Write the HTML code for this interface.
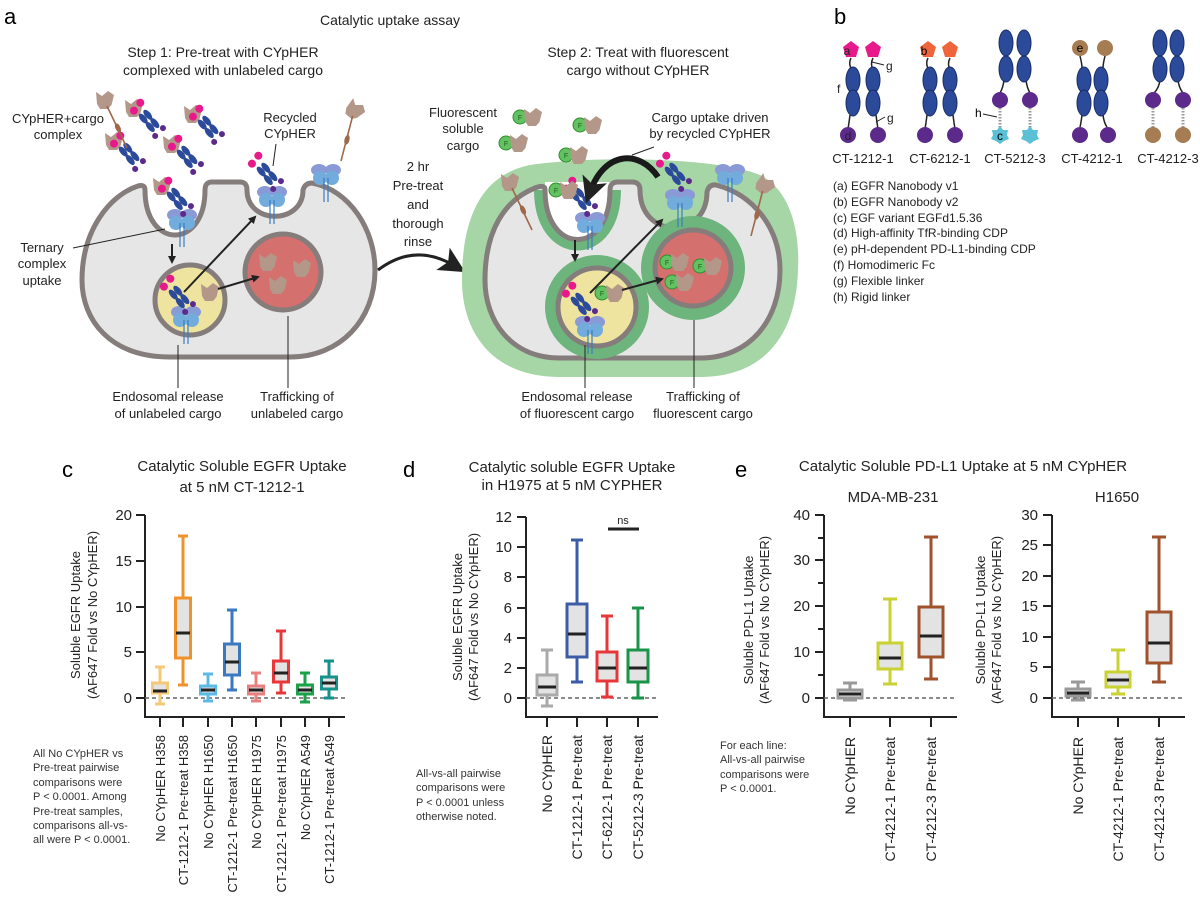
<!DOCTYPE html>
<html><head><meta charset="utf-8"><style>
html,body{margin:0;padding:0;background:#fff}
svg{display:block;font-family:"Liberation Sans",Arial,sans-serif}
</style></head><body>
<svg width="1200" height="903" viewBox="0 0 1200 903" xmlns="http://www.w3.org/2000/svg">
<defs>
<marker id="ah" markerWidth="8" markerHeight="8" refX="6" refY="4" orient="auto" markerUnits="userSpaceOnUse"><path d="M0,0 L8,4 L0,8 Z" fill="#222"/></marker>
<marker id="ahb" markerWidth="26" markerHeight="26" refX="14" refY="13" orient="auto" markerUnits="userSpaceOnUse"><path d="M0,0 L26,13 L0,26 L6,13 Z" fill="#222"/></marker>
<g id="cg"><path d="M-9,-8 L-3,-4 L3,-9 L9,-5 L6.5,5 L3,9 L-5,9 L-8,4 Z" fill="#b39889"/></g>
<g id="cy"><g transform="rotate(-40)">
<circle cx="-5" cy="-19" r="4" fill="#e8198b"/><circle cx="5" cy="-21" r="4" fill="#e8198b"/>
<ellipse cx="-3" cy="-7" rx="3" ry="6" fill="#2b4a9a"/><ellipse cx="3" cy="-7" rx="3" ry="6" fill="#2b4a9a"/>
<ellipse cx="-3" cy="4" rx="3" ry="6" fill="#2b4a9a"/><ellipse cx="3" cy="4" rx="3" ry="6" fill="#2b4a9a"/>
<circle cx="-5" cy="14" r="3" fill="#5c2a8a"/><circle cx="6" cy="13" r="3" fill="#5c2a8a"/></g></g>
<g id="cx"><use href="#cg" x="-16" y="-14"/><use href="#cy"/></g>
<g id="rc"><ellipse cx="-7" cy="0" rx="8" ry="6" fill="#8a9ad6"/><ellipse cx="7" cy="0" rx="8" ry="6" fill="#8a9ad6"/>
<ellipse cx="-6" cy="8" rx="7" ry="7" fill="#72acdc"/><ellipse cx="6" cy="8" rx="7" ry="7" fill="#72acdc"/>
<line x1="-2" y1="8" x2="-2" y2="32" stroke="#3a7cc2" stroke-width="1.2"/><line x1="2" y1="8" x2="2" y2="32" stroke="#3a7cc2" stroke-width="1.2"/></g>
<g id="st"><use href="#cg"/><line x1="2" y1="6" x2="22" y2="48" stroke="#a0684a" stroke-width="1.6"/><ellipse cx="13" cy="28" rx="2.5" ry="5" transform="rotate(-25 13 28)" fill="#a0684a"/></g>
<g id="fc"><circle cx="0" cy="0" r="7" fill="#62c262" stroke="#2f8f2f" stroke-width="1"/><text x="0" y="3" font-size="7" text-anchor="middle" fill="#1e5e1e">F</text><use href="#cg" x="13" y="0"/></g>
</defs>

<text x="4" y="24" font-size="22">a</text>
<text x="390" y="25" font-size="14" text-anchor="middle" fill="#222">Catalytic uptake assay</text>
<text x="223" y="57" font-size="14" text-anchor="middle" fill="#222">Step 1: Pre-treat with CYpHER</text>
<text x="223" y="75" font-size="14" text-anchor="middle" fill="#222">complexed with unlabeled cargo</text>
<text x="638" y="57" font-size="14" text-anchor="middle" fill="#222">Step 2: Treat with fluorescent</text>
<text x="638" y="75" font-size="14" text-anchor="middle" fill="#222">cargo without CYpHER</text>

<path d="M145 190 C145 250,205 250,205 190 Q205 182 212 182 L240 182 Q247 182 247 190 C247 225,303 225,303 190 Q305 183 312 183 C350 190 375 230 375 270 C375 320 340 357 290 357 L170 357 C110 357 82 320 82 280 C82 230 110 195 138 186 Q145 184 145 190 Z" fill="#e6e6e6" stroke="#857c7c" stroke-width="5"/>
<circle cx="190" cy="300" r="35" fill="#efe3a0" stroke="#857c7c" stroke-width="5"/>
<circle cx="283" cy="272" r="38" fill="#d4706e" stroke="#857c7c" stroke-width="5"/>
<use href="#cx" x="150" y="122"/><use href="#cx" x="209" y="128"/><use href="#cx" x="130" y="155"/><use href="#cx" x="188" y="158"/>
<use href="#st" x="105" y="100"/><use href="#st" x="355" y="110" transform="rotate(40 355 110)"/>
<use href="#rc" x="182" y="215"/><use href="#cx" x="178" y="200"/>
<use href="#rc" x="272" y="192"/><use href="#cy" x="268" y="175"/>
<use href="#rc" x="326" y="170"/>
<use href="#rc" x="186" y="312"/><use href="#cy" x="180" y="298"/><use href="#cg" x="210" y="292"/>
<use href="#cg" x="268" y="262"/><use href="#cg" x="302" y="268"/><use href="#cg" x="278" y="285"/>
<line x1="172" y1="244" x2="172" y2="262" stroke="#222" stroke-width="2" marker-end="url(#ah)"/>
<line x1="184" y1="292" x2="255" y2="217" stroke="#222" stroke-width="2" marker-end="url(#ah)"/>
<line x1="218" y1="289" x2="258" y2="277" stroke="#222" stroke-width="2" marker-end="url(#ah)"/>
<g font-size="13" fill="#222" text-anchor="middle">
<text x="58" y="123">CYpHER+cargo</text><text x="58" y="139">complex</text>
<text x="290" y="122">Recycled</text><text x="290" y="138">CYpHER</text>
<text x="42" y="252">Ternary</text><text x="42" y="268">complex</text><text x="42" y="285">uptake</text>
<text x="168" y="401">Endosomal release</text><text x="168" y="418">of unlabeled cargo</text>
<text x="297" y="401">Trafficking of</text><text x="297" y="418">unlabeled cargo</text>
</g>
<g stroke="#222" stroke-width="1">
<line x1="276" y1="144" x2="273" y2="166"/><line x1="73" y1="248" x2="165" y2="229"/>
<line x1="178" y1="345" x2="178" y2="388"/><line x1="288" y1="316" x2="288" y2="388"/></g>

<path d="M378 270 Q415 242 455 266" fill="none" stroke="#222" stroke-width="3" marker-end="url(#ahb)"/>
<g font-size="13" fill="#222" text-anchor="middle">
<text x="418" y="171">2 hr</text><text x="418" y="190">Pre-treat</text><text x="418" y="209">and</text><text x="418" y="228">thorough</text><text x="418" y="246">rinse</text></g>

<path d="M530 165 C600 155 720 158 760 175 C790 190 800 230 798 270 C796 340 760 377 700 377 L560 377 C490 377 462 330 462 280 C462 220 480 175 530 165 Z" fill="#a6d5a6"/>
<path d="M545 190 C545 256,610 256,610 190 Q610 182 618 182 L632 182 Q640 182 640 190 C640 240,707 240,707 192 Q709 184 716 185 C755 195 780 230 780 270 C780 320 750 358 700 358 L560 358 C510 358 485 320 485 280 C485 230 505 200 535 188 Q545 184 545 190 Z" fill="#e6e6e6"/>
<path d="M545 190 C545 256,610 256,610 190" fill="none" stroke="#6db57d" stroke-width="22"/>
<path d="M545 182 C545 256,610 256,610 182 Z" fill="#fff"/>
<path d="M545 190 C545 256,610 256,610 190 Q610 182 618 182 L632 182 Q640 182 640 190 C640 240,707 240,707 192 Q709 184 716 185 C755 195 780 230 780 270 C780 320 750 358 700 358 L560 358 C510 358 485 320 485 280 C485 230 505 200 535 188 Q545 184 545 190 Z" fill="none" stroke="#857c7c" stroke-width="5"/>
<circle cx="597" cy="307" r="52" fill="#6db57d"/><circle cx="597" cy="307" r="39" fill="#efe3a0" stroke="#857c7c" stroke-width="5"/>
<circle cx="693" cy="268" r="52" fill="#6db57d"/><circle cx="693" cy="268" r="38" fill="#d4706e" stroke="#857c7c" stroke-width="5"/>
<use href="#fc" x="520" y="117"/><use href="#fc" x="580" y="125"/><use href="#fc" x="506" y="143"/><use href="#fc" x="566" y="155"/>
<use href="#st" x="510" y="182"/><use href="#st" x="765" y="185" transform="rotate(40 765 185)"/>
<use href="#rc" x="590" y="218"/><use href="#cy" x="582" y="200"/><use href="#fc" x="556" y="190"/>
<use href="#rc" x="680" y="195"/><use href="#cy" x="676" y="175"/>
<use href="#rc" x="730" y="170"/>
<use href="#rc" x="590" y="322"/><use href="#cy" x="582" y="305"/><use href="#fc" x="602" y="293"/>
<use href="#fc" x="667" y="262"/><use href="#fc" x="700" y="266"/><use href="#fc" x="672" y="282"/>
<path d="M658 177 C640 150 605 150 590 192" fill="none" stroke="#1a1a1a" stroke-width="6" marker-end="url(#ahb)"/>
<line x1="575" y1="240" x2="575" y2="260" stroke="#222" stroke-width="2" marker-end="url(#ah)"/>
<line x1="590" y1="293" x2="662" y2="220" stroke="#222" stroke-width="2" marker-end="url(#ah)"/>
<line x1="622" y1="290" x2="662" y2="279" stroke="#222" stroke-width="2" marker-end="url(#ah)"/>
<g font-size="13" fill="#222" text-anchor="middle">
<text x="463" y="117">Fluorescent</text><text x="463" y="133">soluble</text><text x="463" y="150">cargo</text>
<text x="710" y="122">Cargo uptake driven</text><text x="710" y="138">by recycled CYpHER</text>
<text x="577" y="401">Endosomal release</text><text x="577" y="418">of fluorescent cargo</text>
<text x="703" y="401">Trafficking of</text><text x="703" y="418">fluorescent cargo</text></g>
<g stroke="#222" stroke-width="1"><line x1="654" y1="147" x2="632" y2="155"/>
<line x1="585" y1="345" x2="585" y2="388"/><line x1="694" y1="320" x2="694" y2="388"/></g>

<text x="834" y="24" font-size="22">b</text>
<g>
<path d="M851 58 q-3 6 1 12 M873 58 q-3 6 0 12 M850 115 q-1 8 -2 14 M876 115 q1 8 2 14" fill="none" stroke="#222" stroke-width="1.5"/>
<polygon points="851,41 859,47 856,57 846,57 843,47" fill="#e8198b"/><polygon points="873,41 881,47 878,57 868,57 865,47" fill="#e8198b"/>
<ellipse cx="853" cy="80" rx="7" ry="13" fill="#2b4a9a" stroke="#1a2d66"/><ellipse cx="873" cy="80" rx="7" ry="13" fill="#2b4a9a" stroke="#1a2d66"/>
<ellipse cx="853" cy="103" rx="7" ry="13" fill="#2b4a9a" stroke="#1a2d66"/><ellipse cx="873" cy="103" rx="7" ry="13" fill="#2b4a9a" stroke="#1a2d66"/>
<circle cx="848" cy="135" r="8" fill="#5c2a8a"/><circle cx="878" cy="135" r="8" fill="#5c2a8a"/></g>
<g font-size="12" fill="#222"><text x="847" y="55" text-anchor="middle">a</text><text x="848" y="140" text-anchor="middle">d</text><text x="837" y="93">f</text><text x="886" y="70">g</text><text x="887" y="122">g</text></g>
<line x1="872" y1="62" x2="884" y2="65" stroke="#222"/><line x1="876" y1="122" x2="885" y2="117" stroke="#222"/>
<g transform="translate(77,0)">
<path d="M851 58 q-3 6 1 12 M873 58 q-3 6 0 12 M850 115 q-1 8 -2 14 M876 115 q1 8 2 14" fill="none" stroke="#222" stroke-width="1.5"/>
<polygon points="851,41 859,47 856,57 846,57 843,47" fill="#f0643c"/><polygon points="873,41 881,47 878,57 868,57 865,47" fill="#f0643c"/>
<ellipse cx="853" cy="80" rx="7" ry="13" fill="#2b4a9a" stroke="#1a2d66"/><ellipse cx="873" cy="80" rx="7" ry="13" fill="#2b4a9a" stroke="#1a2d66"/>
<ellipse cx="853" cy="103" rx="7" ry="13" fill="#2b4a9a" stroke="#1a2d66"/><ellipse cx="873" cy="103" rx="7" ry="13" fill="#2b4a9a" stroke="#1a2d66"/>
<circle cx="848" cy="135" r="8" fill="#5c2a8a"/><circle cx="878" cy="135" r="8" fill="#5c2a8a"/>
<text x="847" y="55" text-anchor="middle" font-size="12">b</text></g>
<g>
<path d="M1004 80 q-1 8 -4 13 M1026 80 q1 8 4 13" fill="none" stroke="#222" stroke-width="1.5"/>
<path d="M1000 108 l0 20 M1030 108 l0 20" stroke="#999" stroke-width="3" stroke-dasharray="1.5 1.5"/>
<ellipse cx="1006" cy="43" rx="7" ry="13" fill="#2b4a9a" stroke="#1a2d66"/><ellipse cx="1024" cy="43" rx="7" ry="13" fill="#2b4a9a" stroke="#1a2d66"/>
<ellipse cx="1006" cy="69" rx="7" ry="13" fill="#2b4a9a" stroke="#1a2d66"/><ellipse cx="1024" cy="69" rx="7" ry="13" fill="#2b4a9a" stroke="#1a2d66"/>
<circle cx="1000" cy="100" r="8" fill="#5c2a8a"/><circle cx="1030" cy="100" r="8" fill="#5c2a8a"/>
<polygon points="1000,126 1003,130 1008,130 1007,135 1009,139 1004,141 1000,144 996,141 991,139 993,135 992,130 997,130" fill="#5bc0d5"/>
<polygon points="1030,126 1033,130 1038,130 1037,135 1039,139 1034,141 1030,144 1026,141 1021,139 1023,135 1022,130 1027,130" fill="#5bc0d5"/>
<text x="1000" y="140" font-size="12" text-anchor="middle">c</text><text x="975" y="117" font-size="12">h</text>
<line x1="983" y1="114" x2="997" y2="117" stroke="#222"/></g>
<g>
<path d="M1080 56 q2 8 2 12 M1105 56 q-2 8 -2 12 M1082 115 q-1 8 -2 12 M1103 115 q1 8 4 12" fill="none" stroke="#222" stroke-width="1.5"/>
<circle cx="1080" cy="48" r="8" fill="#a67c52"/><circle cx="1105" cy="48" r="8" fill="#a67c52"/>
<ellipse cx="1084" cy="80" rx="7" ry="13" fill="#2b4a9a" stroke="#1a2d66"/><ellipse cx="1101" cy="80" rx="7" ry="13" fill="#2b4a9a" stroke="#1a2d66"/>
<ellipse cx="1084" cy="103" rx="7" ry="13" fill="#2b4a9a" stroke="#1a2d66"/><ellipse cx="1101" cy="103" rx="7" ry="13" fill="#2b4a9a" stroke="#1a2d66"/>
<circle cx="1080" cy="135" r="8" fill="#5c2a8a"/><circle cx="1108" cy="135" r="8" fill="#5c2a8a"/>
<text x="1080" y="52" font-size="12" text-anchor="middle">e</text></g>
<g>
<path d="M1160 80 q-1 8 -6 13 M1178 80 q1 8 5 13" fill="none" stroke="#222" stroke-width="1.5"/>
<path d="M1153 108 l0 20 M1183 108 l0 20" stroke="#999" stroke-width="3" stroke-dasharray="1.5 1.5"/>
<ellipse cx="1160" cy="43" rx="7" ry="13" fill="#2b4a9a" stroke="#1a2d66"/><ellipse cx="1177" cy="43" rx="7" ry="13" fill="#2b4a9a" stroke="#1a2d66"/>
<ellipse cx="1160" cy="69" rx="7" ry="13" fill="#2b4a9a" stroke="#1a2d66"/><ellipse cx="1177" cy="69" rx="7" ry="13" fill="#2b4a9a" stroke="#1a2d66"/>
<circle cx="1153" cy="100" r="8" fill="#5c2a8a"/><circle cx="1183" cy="100" r="8" fill="#5c2a8a"/>
<circle cx="1153" cy="135" r="8" fill="#a67c52"/><circle cx="1183" cy="135" r="8" fill="#a67c52"/></g>
<g font-size="13" fill="#222" text-anchor="middle">
<text x="863" y="163">CT-1212-1</text><text x="940" y="163">CT-6212-1</text><text x="1015" y="163">CT-5212-3</text><text x="1092" y="163">CT-4212-1</text><text x="1168" y="163">CT-4212-3</text></g>
<g font-size="12" fill="#222">
<text x="833" y="190">(a) EGFR Nanobody v1</text><text x="833" y="206">(b) EGFR Nanobody v2</text><text x="833" y="222">(c) EGF variant EGFd1.5.36</text><text x="833" y="237">(d) High-affinity TfR-binding CDP</text><text x="833" y="253">(e) pH-dependent PD-L1-binding CDP</text><text x="833" y="269">(f) Homodimeric Fc</text><text x="833" y="285">(g) Flexible linker</text><text x="833" y="301">(h) Rigid linker</text></g>

<text x="62" y="477" font-size="22">c</text>
<g font-size="15" fill="#222" text-anchor="middle"><text x="242" y="471">Catalytic Soluble EGFR Uptake</text><text x="242" y="492">at 5 nM CT-1212-1</text></g>
<g stroke="#222" stroke-width="2" fill="none">
<path d="M145 515 V717 H345"/>
<path d="M136 515H145M136 561H145M136 607H145M136 652H145M136 698H145"/>
<path d="M160 717v10M183 717v10M208 717v10M232 717v10M256 717v10M281 717v10M305 717v10M329 717v10"/></g>
<g font-size="15" fill="#222" text-anchor="end"><text x="132" y="520">20</text><text x="132" y="566">15</text><text x="132" y="612">10</text><text x="132" y="657">5</text><text x="132" y="703">0</text></g>
<g font-size="13" fill="#222" text-anchor="middle"><text transform="translate(80,615) rotate(-90)">Soluble EGFR Uptake</text><text transform="translate(97,615) rotate(-90)">(AF647 Fold vs No CYpHER)</text></g>
<line x1="145" y1="698" x2="345" y2="698" stroke="#666" stroke-width="1.5" stroke-dasharray="4 3"/>
<g stroke-width="3" fill="#e3e3e3">
<g stroke="#f5c97a"><path d="M160 667V704M155 667h10M155 704h10"/><rect x="152.5" y="683" width="15" height="10"/></g>
<g stroke="#f0922b"><path d="M183 536V685M178 536h10M178 685h10"/><rect x="175.5" y="598" width="15" height="60"/></g>
<g stroke="#5bbbe6"><path d="M208 674V701M203 674h10M203 701h10"/><rect x="200.5" y="686" width="15" height="8"/></g>
<g stroke="#3a78bf"><path d="M232 610V690M227 610h10M227 690h10"/><rect x="224.5" y="644" width="15" height="31"/></g>
<g stroke="#e98080"><path d="M256 673V701M251 673h10M251 701h10"/><rect x="248.5" y="686" width="15" height="8"/></g>
<g stroke="#e8373a"><path d="M281 631V693M276 631h10M276 693h10"/><rect x="273.5" y="661" width="15" height="21"/></g>
<g stroke="#1aa14a"><path d="M305 673V702M300 673h10M300 702h10"/><rect x="297.5" y="685" width="15" height="9"/></g>
<g stroke="#16918b"><path d="M329 661V698M324 661h10M324 698h10"/><rect x="321.5" y="677" width="15" height="12"/></g>
<path stroke="#222" d="M153 691h14M176 633h14M201 690h14M225 662h14M249 690h14M274 673h14M298 690h14M322 683h14"/></g>
<g font-size="13" fill="#222" text-anchor="end">
<text transform="translate(165,735) rotate(-90)">No CYpHER H358</text>
<text transform="translate(188,735) rotate(-90)">CT-1212-1 Pre-treat H358</text>
<text transform="translate(213,735) rotate(-90)">No CYpHER H1650</text>
<text transform="translate(237,735) rotate(-90)">CT-1212-1 Pre-treat H1650</text>
<text transform="translate(261,735) rotate(-90)">No CYpHER H1975</text>
<text transform="translate(286,735) rotate(-90)">CT-1212-1 Pre-treat H1975</text>
<text transform="translate(310,735) rotate(-90)">No CYpHER A549</text>
<text transform="translate(334,735) rotate(-90)">CT-1212-1 Pre-treat A549</text></g>
<g font-size="11" fill="#333"><text x="33" y="757">All No CYpHER vs</text><text x="33" y="771">Pre-treat pairwise</text><text x="33" y="786">comparisons were</text><text x="33" y="800">P &lt; 0.0001. Among</text><text x="33" y="815">Pre-treat samples,</text><text x="33" y="829">comparisons all-vs-</text><text x="33" y="843">all were P &lt; 0.0001.</text></g>

<text x="403" y="477" font-size="22">d</text>
<g font-size="15" fill="#222" text-anchor="middle"><text x="572" y="472">Catalytic soluble EGFR Uptake</text><text x="572" y="490">in H1975 at 5 nM CYPHER</text></g>
<g stroke="#222" stroke-width="2" fill="none">
<path d="M526 517V717H658"/>
<path d="M517 517h9M517 547h9M517 577h9M517 608h9M517 638h9M517 668h9M517 698h9"/>
<path d="M547 717v10M577 717v10M607 717v10M638 717v10"/></g>
<g font-size="15" fill="#222" text-anchor="end"><text x="512" y="522">12</text><text x="512" y="552">10</text><text x="512" y="582">8</text><text x="512" y="613">6</text><text x="512" y="643">4</text><text x="512" y="673">2</text><text x="512" y="703">0</text></g>
<g font-size="13" fill="#222" text-anchor="middle"><text transform="translate(462,617) rotate(-90)">Soluble EGFR Uptake</text><text transform="translate(478,617) rotate(-90)">(AF647 Fold vs No CYpHER)</text></g>
<line x1="526" y1="698" x2="658" y2="698" stroke="#666" stroke-width="1.5" stroke-dasharray="4 3"/>
<g stroke-width="3" fill="#e3e3e3">
<g stroke="#aaaaaa"><path d="M547 650V706M541 650h12M541 706h12"/><rect x="537" y="675" width="20" height="20"/></g>
<g stroke="#3c5ca8"><path d="M577 540V682M571 540h12M571 682h12"/><rect x="567" y="604" width="20" height="53"/></g>
<g stroke="#e8373a"><path d="M607 616V697M601 616h12M601 697h12"/><rect x="597" y="652" width="20" height="29"/></g>
<g stroke="#1a9448"><path d="M638 608V698M632 608h12M632 698h12"/><rect x="628" y="650" width="20" height="32"/></g>
<path stroke="#222" d="M538 687h18M568 634h18M598 668h18M629 668h18"/>
<path stroke="#222" d="M608 529h31"/></g>
<text x="623" y="524" font-size="11" fill="#222" text-anchor="middle">ns</text>
<g font-size="14" fill="#222" text-anchor="end">
<text transform="translate(552,735) rotate(-90)">No CYpHER</text>
<text transform="translate(582,735) rotate(-90)">CT-1212-1 Pre-treat</text>
<text transform="translate(612,735) rotate(-90)">CT-6212-1 Pre-treat</text>
<text transform="translate(643,735) rotate(-90)">CT-5212-3 Pre-treat</text></g>
<g font-size="11" fill="#333"><text x="416" y="777">All-vs-all pairwise</text><text x="416" y="791">comparisons were</text><text x="416" y="806">P &lt; 0.0001 unless</text><text x="416" y="820">otherwise noted.</text></g>

<text x="735" y="477" font-size="22">e</text>
<text x="963" y="471" font-size="15" fill="#222" text-anchor="middle">Catalytic Soluble PD-L1 Uptake at 5 nM CYpHER</text>
<text x="893" y="502" font-size="15" fill="#222" text-anchor="middle">MDA-MB-231</text>
<text x="1117" y="502" font-size="15" fill="#222" text-anchor="middle">H1650</text>
<g stroke="#222" stroke-width="2" fill="none">
<path d="M824 515V717H957"/>
<path d="M815 515h9M818 538h6M815 560h9M818 583h6M815 606h9M818 629h6M815 652h9M818 675h6M815 698h9"/>
<path d="M850 717v10M890 717v10M931 717v10"/>
<path d="M1052 515V717H1185"/>
<path d="M1043 515h9M1043 545h9M1043 576h9M1043 606h9M1043 637h9M1043 667h9M1043 698h9"/>
<path d="M1078 717v10M1118 717v10M1159 717v10"/></g>
<g font-size="15" fill="#222" text-anchor="end"><text x="810" y="520">40</text><text x="810" y="565">30</text><text x="810" y="611">20</text><text x="810" y="657">10</text><text x="810" y="703">0</text>
<text x="1038" y="520">30</text><text x="1038" y="550">25</text><text x="1038" y="581">20</text><text x="1038" y="611">15</text><text x="1038" y="642">10</text><text x="1038" y="672">5</text><text x="1038" y="703">0</text></g>
<g font-size="13" fill="#222" text-anchor="middle"><text transform="translate(753,620) rotate(-90)">Soluble PD-L1 Uptake</text><text transform="translate(769,620) rotate(-90)">(AF647 Fold vs No CYpHER)</text>
<text transform="translate(985,620) rotate(-90)">Soluble PD-L1 Uptake</text><text transform="translate(1001,620) rotate(-90)">(AF647 Fold vs No CYpHER)</text></g>
<line x1="824" y1="698" x2="957" y2="698" stroke="#666" stroke-width="1.5" stroke-dasharray="4 3"/>
<line x1="1052" y1="698" x2="1185" y2="698" stroke="#666" stroke-width="1.5" stroke-dasharray="4 3"/>
<g stroke-width="3" fill="#e3e3e3">
<g stroke="#999"><path d="M850 683V700M843 683h14M843 700h14"/><rect x="838" y="690" width="24" height="8"/></g>
<g stroke="#c8d232"><path d="M890 599V684M883 599h14M883 684h14"/><rect x="878" y="643" width="24" height="26"/></g>
<g stroke="#a0522d"><path d="M931 537V679M924 537h14M924 679h14"/><rect x="919" y="607" width="24" height="50"/></g>
<g stroke="#999"><path d="M1078 682V700M1071 682h14M1071 700h14"/><rect x="1066" y="689" width="24" height="7"/></g>
<g stroke="#c8d232"><path d="M1118 650V694M1111 650h14M1111 694h14"/><rect x="1106" y="672" width="24" height="15"/></g>
<g stroke="#a0522d"><path d="M1159 537V682M1152 537h14M1152 682h14"/><rect x="1147" y="612" width="24" height="51"/></g>
<path stroke="#222" d="M839 694h22M879 658h22M920 636h22M1067 693h22M1107 680h22M1148 643h22"/></g>
<g font-size="14" fill="#222" text-anchor="end">
<text transform="translate(855,737) rotate(-90)">No CYpHER</text>
<text transform="translate(895,737) rotate(-90)">CT-4212-1 Pre-treat</text>
<text transform="translate(936,737) rotate(-90)">CT-4212-3 Pre-treat</text>
<text transform="translate(1083,737) rotate(-90)">No CYpHER</text>
<text transform="translate(1123,737) rotate(-90)">CT-4212-1 Pre-treat</text>
<text transform="translate(1164,737) rotate(-90)">CT-4212-3 Pre-treat</text></g>
<g font-size="11" fill="#333"><text x="720" y="749">For each line:</text><text x="720" y="763">All-vs-all pairwise</text><text x="720" y="778">comparisons were</text><text x="720" y="792">P &lt; 0.0001.</text></g>
</svg>
</body></html>
